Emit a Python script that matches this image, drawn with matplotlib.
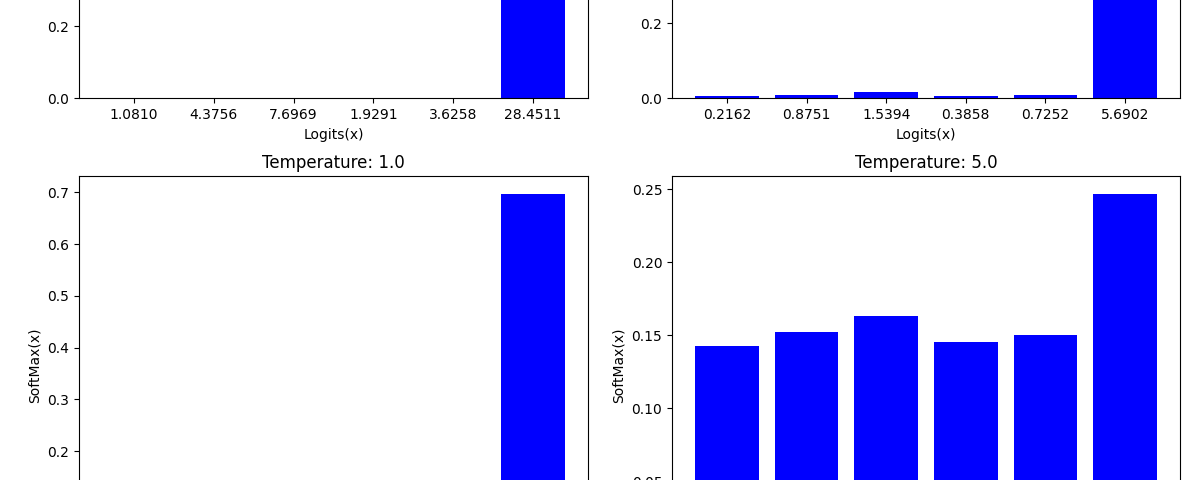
import matplotlib
matplotlib.use("Agg")
import matplotlib.pyplot as plt

# Panel data
titles = ["Temperature: 0.1", "Temperature: 0.5", "Temperature: 1.0", "Temperature: 5.0"]

logits_tl = ["1.0810", "4.3756", "7.6969", "1.9291", "3.6258", "28.4511"]
softmax_tl = [0.0, 0.0, 0.0, 0.0, 0.0, 1.0]

logits_tr = ["0.2162", "0.8751", "1.5394", "0.3858", "0.7252", "5.6902"]
softmax_tr = [0.0058, 0.0085, 0.0165, 0.0058, 0.0085, 0.9616]

logits_bl = ["0.1081", "0.4376", "0.7697", "0.1929", "0.3626", "2.8451"]
softmax_bl = [0.045, 0.063, 0.0875, 0.049, 0.058, 0.697]

logits_br = ["0.0216", "0.0875", "0.1539", "0.0386", "0.0725", "0.5690"]
softmax_br = [0.1427, 0.1524, 0.1629, 0.1451, 0.1502, 0.2467]

panels = [
    (logits_tl, softmax_tl, titles[0]),
    (logits_tr, softmax_tr, titles[1]),
    (logits_bl, softmax_bl, titles[2]),
    (logits_br, softmax_br, titles[3]),
]

W, H = 1189, 480
fig = plt.figure(figsize=(W / 100, H / 100), dpi=100)

ax_h = 378.5
lefts = [79, 672]
widths = [509, 508]
tops = [98.3 - ax_h, 176]

for i, (labels, vals, title) in enumerate(panels):
    r, c = divmod(i, 2)
    left = lefts[c]
    top = tops[r]
    rect = [left / W, 1 - (top + ax_h) / H, widths[c] / W, ax_h / H]
    ax = fig.add_axes(rect)
    x = list(range(len(labels)))
    ax.bar(x, vals, color="blue")
    ax.set_xticks(x)
    ax.set_xticklabels(labels)
    ax.set_title(title)
    ax.set_xlabel("Logits(x)")
    ax.set_ylabel("SoftMax(x)")

fig.savefig("out.png", dpi=100)
